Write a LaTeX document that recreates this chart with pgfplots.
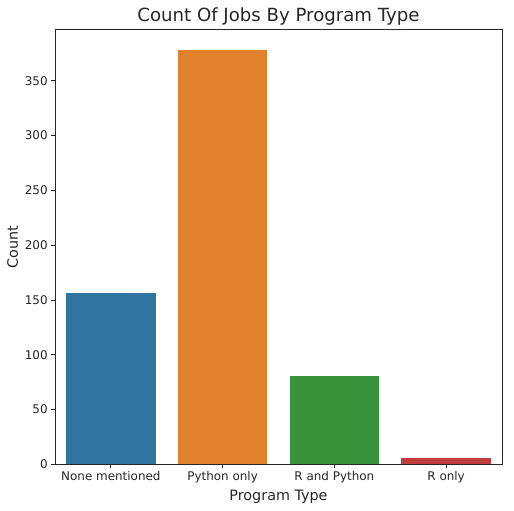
\documentclass[border=0pt]{standalone}
\usepackage{fontspec}
\setmainfont{DejaVu Sans}
\usepackage{pgfplots}
\pgfplotsset{compat=1.18}
\definecolor{c1}{HTML}{3274A1}
\definecolor{c2}{HTML}{E1812C}
\definecolor{c3}{HTML}{3A923A}
\definecolor{c4}{HTML}{C03D3E}
\definecolor{axc}{HTML}{262626}
\begin{document}
\begin{tikzpicture}
\path[use as bounding box] (-55bp,-46.7bp) rectangle (459bp,464.3bp);
\begin{axis}[
  at={(0,0)}, anchor=south west,
  scale only axis, width=447bp, height=435bp,
  xmin=-0.5, xmax=3.5, ymin=0, ymax=396.9,
  xtick={0,1,2,3},
  xticklabels={None mentioned, Python only, R and Python, R only},
  ytick={0,50,100,150,200,250,300,350},
  /pgf/number format/assume math mode=true,
  tick label style={font=\fontsize{12}{14}\selectfont, text=axc},
  tick align=outside, tick pos=left,
  major tick length=3.8bp,
  tick style={axc, line width=0.8bp},
  axis line style={axc, line width=0.8bp},
  title={Count Of Jobs By Program Type},
  title style={font=\fontsize{18.2}{21}\selectfont, text=axc, at={(0.5,1)}, anchor=base, yshift=1.5bp},
  xlabel={Program Type}, ylabel={Count},
  label style={font=\fontsize{14.4}{17}\selectfont, text=axc},
  ybar=0pt, bar width=0.8, bar shift=0pt,
  area legend,
]
\addplot[draw=none, fill=c1] coordinates {(0,156)};
\addplot[draw=none, fill=c2] coordinates {(1,378)};
\addplot[draw=none, fill=c3] coordinates {(2,81)};
\addplot[draw=none, fill=c4] coordinates {(3,6)};
\end{axis}
\end{tikzpicture}
\end{document}
